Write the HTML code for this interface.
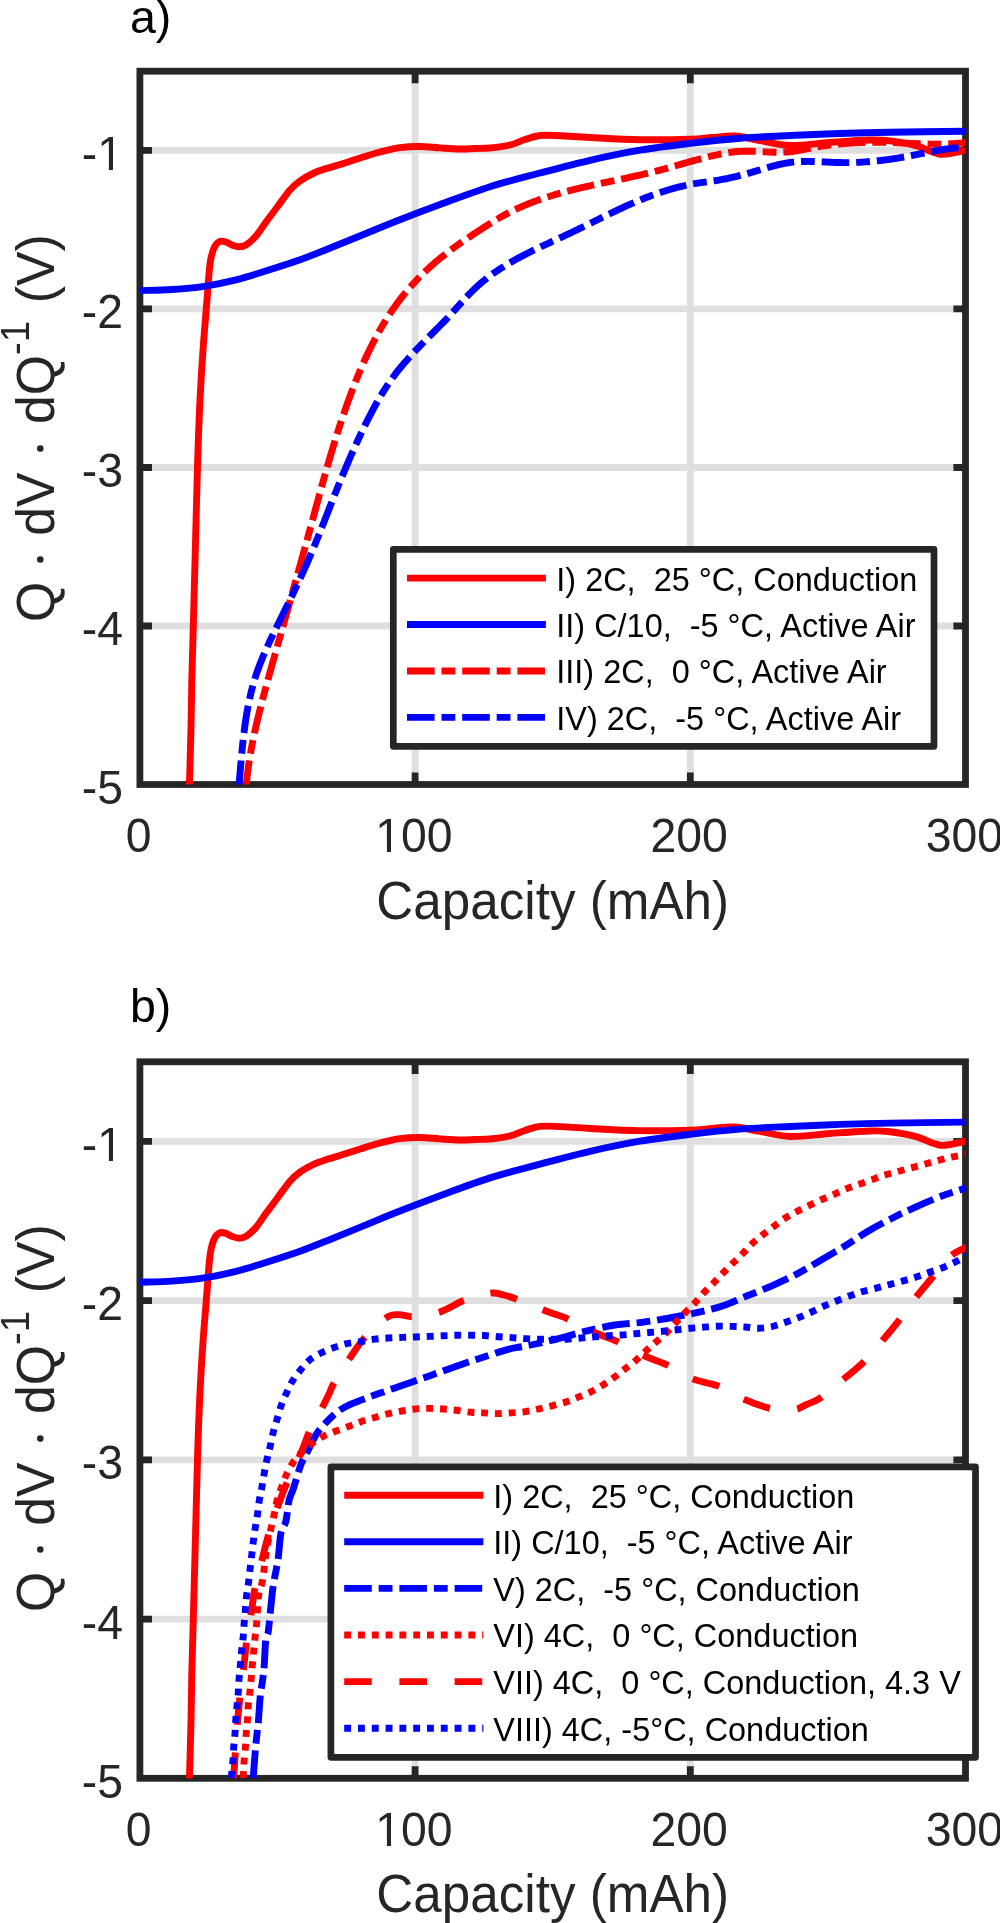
<!DOCTYPE html>
<html><head><meta charset="utf-8"><style>
html,body{margin:0;padding:0;background:#fff;width:1000px;height:1923px;overflow:hidden}
svg{display:block}
text{font-family:"Liberation Sans",sans-serif;filter:grayscale(1)}
</style></head><body>
<svg width="1000" height="1923" viewBox="0 0 1000 1923">
<line x1="415.10" y1="71.19" x2="415.10" y2="784.50" stroke="#dfdfdf" stroke-width="6.8"/>
<line x1="690.30" y1="71.19" x2="690.30" y2="784.50" stroke="#dfdfdf" stroke-width="6.8"/>
<line x1="139.90" y1="150.45" x2="965.50" y2="150.45" stroke="#dfdfdf" stroke-width="6.8"/>
<line x1="139.90" y1="308.96" x2="965.50" y2="308.96" stroke="#dfdfdf" stroke-width="6.8"/>
<line x1="139.90" y1="467.48" x2="965.50" y2="467.48" stroke="#dfdfdf" stroke-width="6.8"/>
<line x1="139.90" y1="625.99" x2="965.50" y2="625.99" stroke="#dfdfdf" stroke-width="6.8"/>
<path d="M415.10 784.50V772.40M415.10 71.19V83.29M690.30 784.50V772.40M690.30 71.19V83.29M139.90 150.45H152.00M965.50 150.45H953.40M139.90 308.96H152.00M965.50 308.96H953.40M139.90 467.48H152.00M965.50 467.48H953.40M139.90 625.99H152.00M965.50 625.99H953.40" stroke="#262626" stroke-width="6.8" fill="none"/>
<rect x="139.90" y="71.19" width="825.60" height="713.31" stroke="#262626" stroke-width="6.8" fill="none" stroke-linejoin="miter"/>
<clipPath id="ca"><rect x="139.90" y="71.19" width="825.60" height="713.31"/></clipPath>
<path d="M189.00 800.00C189.33 788.00 190.53 748.00 191.00 728.00C191.47 708.00 191.30 701.33 191.80 680.00C192.30 658.67 193.20 630.00 194.00 600.00C194.80 570.00 195.93 525.00 196.60 500.00C197.27 475.00 197.43 466.67 198.00 450.00C198.57 433.33 199.17 416.67 200.00 400.00C200.83 383.33 201.83 366.67 203.00 350.00C204.17 333.33 205.83 314.33 207.00 300.00C208.17 285.67 208.83 272.67 210.00 264.00C211.17 255.33 212.42 251.75 214.00 248.00C215.58 244.25 217.50 242.50 219.50 241.50C221.50 240.50 223.92 241.42 226.00 242.00C228.08 242.58 229.83 244.20 232.00 245.00C234.17 245.80 236.67 246.80 239.00 246.80C241.33 246.80 243.17 246.80 246.00 245.00C248.83 243.20 252.67 239.83 256.00 236.00C259.33 232.17 262.33 227.00 266.00 222.00C269.67 217.00 274.00 211.33 278.00 206.00C282.00 200.67 286.33 194.17 290.00 190.00C293.67 185.83 296.00 183.83 300.00 181.00C304.00 178.17 309.33 175.17 314.00 173.00C318.67 170.83 323.67 169.42 328.00 168.00C332.33 166.58 334.67 166.17 340.00 164.50C345.33 162.83 353.33 160.08 360.00 158.00C366.67 155.92 373.33 153.73 380.00 152.00C386.67 150.27 393.33 148.52 400.00 147.60C406.67 146.68 413.33 146.45 420.00 146.50C426.67 146.55 433.33 147.48 440.00 147.90C446.67 148.32 454.17 148.90 460.00 149.00C465.83 149.10 470.00 148.67 475.00 148.50C480.00 148.33 484.17 148.58 490.00 148.00C495.83 147.42 504.17 146.42 510.00 145.00C515.83 143.58 520.00 141.08 525.00 139.50C530.00 137.92 534.17 136.13 540.00 135.50C545.83 134.87 551.67 135.37 560.00 135.70C568.33 136.03 576.67 136.83 590.00 137.50C603.33 138.17 623.33 139.42 640.00 139.70C656.67 139.98 678.00 139.57 690.00 139.20C702.00 138.83 704.50 138.03 712.00 137.50C719.50 136.97 727.00 135.50 735.00 136.00C743.00 136.50 750.83 138.92 760.00 140.50C769.17 142.08 778.33 145.17 790.00 145.50C801.67 145.83 816.67 143.42 830.00 142.50C843.33 141.58 860.00 140.28 870.00 140.00C880.00 139.72 882.33 139.87 890.00 140.80C897.67 141.73 907.67 143.37 916.00 145.60C924.33 147.83 932.33 153.30 940.00 154.20C947.67 155.10 956.17 152.03 962.00 151.00C967.83 149.97 972.83 148.50 975.00 148.00" fill="none" stroke="#ff0000" stroke-width="6.9" stroke-linejoin="round" clip-path="url(#ca)"/>
<path d="M130.00 291.00C131.67 290.93 133.00 290.85 140.00 290.60C147.00 290.35 161.33 290.22 172.00 289.50C182.67 288.78 193.33 287.92 204.00 286.30C214.67 284.68 225.33 282.47 236.00 279.80C246.67 277.13 257.33 273.63 268.00 270.30C278.67 266.97 289.33 263.63 300.00 259.80C310.67 255.97 321.33 251.55 332.00 247.30C342.67 243.05 353.33 238.65 364.00 234.30C374.67 229.95 383.33 226.17 396.00 221.20C408.67 216.23 424.33 210.25 440.00 204.50C455.67 198.75 473.33 191.95 490.00 186.70C506.67 181.45 523.33 177.40 540.00 173.00C556.67 168.60 573.33 164.10 590.00 160.30C606.67 156.50 623.33 153.02 640.00 150.20C656.67 147.38 673.33 145.40 690.00 143.40C706.67 141.40 723.33 139.52 740.00 138.20C756.67 136.88 773.33 136.28 790.00 135.50C806.67 134.72 823.33 134.05 840.00 133.50C856.67 132.95 869.17 132.58 890.00 132.20C910.83 131.82 950.83 131.38 965.00 131.20C979.17 131.02 973.33 131.12 975.00 131.10" fill="none" stroke="#0000ff" stroke-width="6.9" stroke-linejoin="round" clip-path="url(#ca)"/>
<path d="M245.23 799.86 L245.36 797.37 L245.50 794.89 L245.66 792.41 L245.84 789.93 L246.04 787.45 L246.26 784.97 L246.49 782.50 L246.74 780.03 L247.01 777.55 L247.30 775.08 L247.60 772.62 L247.92 770.15 L248.26 767.69 L248.61 765.22 L248.98 762.76 L249.36 760.30 L249.75 757.85 L250.16 755.39 L250.59 752.94 L251.02 750.48 L251.47 748.03 L251.93 745.58 L252.41 743.13 L252.89 740.69 L253.39 738.24 L253.90 735.80 L254.42 733.35 L254.95 730.91 L255.49 728.47 L256.04 726.03 L256.60 723.59 L257.17 721.16 L257.75 718.72 L258.33 716.29 L258.93 713.85 L259.53 711.42 L260.14 708.99 L260.75 706.56 L261.37 704.14 L262.00 701.71 L262.63 699.28 L263.27 696.86 L263.92 694.43 L264.57 692.01 L265.22 689.59 L265.88 687.17 L266.54 684.75 L267.20 682.33 L267.87 679.91 L268.54 677.49 L269.21 675.07 L269.89 672.66 L270.56 670.24 L271.24 667.83 L271.92 665.42 L272.59 663.00 L273.27 660.59 L273.95 658.18 L274.63 655.77 L275.31 653.36 L275.99 650.95 L276.67 648.54 L277.35 646.13 L278.02 643.73 L278.70 641.32 L279.38 638.91 L280.06 636.51 L280.74 634.10 L281.42 631.69 L282.10 629.29 L282.78 626.89 L283.46 624.48 L284.14 622.08 L284.81 619.67 L285.49 617.27 L286.17 614.87 L286.85 612.47 L287.53 610.06 L288.20 607.66 L288.88 605.26 L289.56 602.86 L290.23 600.46 L290.91 598.06 L291.59 595.66 L292.26 593.25 L292.94 590.85 L293.61 588.45 L294.28 586.05 L294.96 583.65 L295.63 581.25 L296.30 578.85 L296.98 576.45 L297.65 574.05 L298.32 571.65 L298.99 569.25 L299.66 566.84 L300.33 564.44 L300.99 562.04 L301.66 559.64 L302.33 557.24 L302.99 554.83 L303.66 552.43 L304.32 550.03 L304.99 547.63 L305.65 545.22 L306.31 542.82 L306.97 540.41 L307.63 538.01 L308.29 535.60 L308.95 533.20 L309.60 530.79 L310.26 528.38 L310.91 525.98 L311.57 523.57 L312.22 521.16 L312.88 518.75 L313.53 516.35 L314.19 513.94 L314.84 511.53 L315.49 509.12 L316.15 506.71 L316.81 504.30 L317.46 501.90 L318.12 499.49 L318.78 497.08 L319.44 494.67 L320.10 492.26 L320.77 489.86 L321.43 487.45 L322.10 485.04 L322.77 482.64 L323.44 480.23 L324.12 477.83 L324.80 475.42 L325.48 473.02 L326.16 470.61 L326.85 468.21 L327.54 465.81 L328.24 463.41 L328.93 461.01 L329.64 458.61 L330.34 456.21 L331.05 453.82 L331.77 451.42 L332.49 449.03 L333.21 446.63 L333.94 444.24 L334.68 441.85 L335.42 439.46 L336.16 437.07 L336.91 434.69 L337.67 432.30 L338.43 429.92 L339.20 427.54 L339.97 425.16 L340.75 422.78 L341.54 420.40 L342.34 418.03 L343.14 415.65 L343.95 413.28 L344.76 410.91 L345.58 408.55 L346.42 406.18 L347.25 403.82 L348.10 401.45 L348.95 399.10 L349.82 396.74 L350.69 394.38 L351.57 392.03 L352.46 389.68 L353.36 387.34 L354.26 384.99 L355.18 382.65 L356.11 380.32 L357.04 377.99 L357.99 375.66 L358.95 373.34 L359.92 371.02 L360.90 368.71 L361.90 366.40 L362.90 364.10 L363.92 361.81 L364.95 359.52 L366.00 357.24 L367.05 354.97 L368.13 352.71 L369.21 350.45 L370.31 348.20 L371.42 345.96 L372.55 343.73 L373.69 341.50 L374.85 339.29 L376.02 337.09 L377.21 334.89 L378.42 332.71 L379.64 330.54 L380.88 328.38 L382.13 326.22 L383.40 324.09 L384.69 321.96 L386.00 319.84 L387.33 317.74 L388.67 315.65 L390.03 313.57 L391.42 311.51 L392.82 309.46 L394.24 307.42 L395.68 305.40 L397.14 303.39 L398.62 301.40 L400.12 299.42 L401.64 297.46 L403.19 295.51 L404.75 293.58 L406.33 291.67 L407.93 289.77 L409.56 287.88 L411.20 286.02 L412.86 284.17 L414.53 282.34 L416.23 280.52 L417.94 278.72 L419.67 276.94 L421.42 275.18 L423.19 273.43 L424.97 271.70 L426.77 269.99 L428.59 268.30 L430.42 266.63 L432.27 264.97 L434.13 263.34 L436.01 261.72 L437.90 260.12 L439.81 258.54 L441.73 256.98 L443.67 255.44 L445.62 253.92 L447.59 252.41 L449.57 250.91 L451.56 249.43 L453.56 247.96 L455.58 246.50 L457.61 245.06 L459.65 243.62 L461.70 242.19 L463.77 240.77 L465.84 239.35 L467.93 237.94 L470.03 236.54 L472.14 235.14 L474.25 233.74 L476.38 232.34 L478.52 230.95 L480.67 229.55 L482.83 228.15 L484.99 226.76 L487.17 225.37 L489.35 223.99 L491.54 222.63 L493.74 221.28 L495.94 219.94 L498.16 218.63 L500.38 217.35 L502.60 216.09 L504.84 214.86 L507.08 213.67 L509.33 212.50 L511.58 211.37 L513.84 210.26 L516.10 209.18 L518.37 208.13 L520.65 207.11 L522.93 206.11 L525.22 205.14 L527.51 204.19 L529.81 203.27 L532.11 202.37 L534.42 201.49 L536.74 200.63 L539.06 199.80 L541.38 198.99 L543.71 198.19 L546.05 197.42 L548.38 196.67 L550.73 195.93 L553.07 195.21 L555.43 194.51 L557.78 193.82 L560.14 193.15 L562.51 192.49 L564.88 191.85 L567.25 191.22 L569.63 190.60 L572.01 190.00 L574.39 189.40 L576.78 188.82 L579.17 188.24 L581.56 187.68 L583.96 187.12 L586.36 186.57 L588.76 186.03 L591.17 185.50 L593.58 184.97 L595.99 184.44 L598.41 183.92 L600.82 183.40 L603.24 182.89 L605.67 182.38 L608.09 181.87 L610.52 181.36 L612.95 180.85 L615.38 180.34 L617.81 179.83 L620.24 179.32 L622.68 178.80 L625.12 178.28 L627.56 177.76 L630.00 177.24 L632.44 176.70 L634.88 176.16 L637.33 175.62 L639.77 175.07 L642.22 174.51 L644.67 173.94 L647.11 173.36 L649.56 172.77 L652.01 172.17 L654.46 171.56 L656.91 170.94 L659.36 170.31 L661.81 169.66 L664.26 169.00 L666.72 168.32 L669.17 167.64 L671.62 166.95 L674.07 166.25 L676.52 165.55 L678.97 164.85 L681.43 164.14 L683.88 163.44 L686.33 162.74 L688.78 162.04 L691.24 161.34 L693.69 160.65 L696.14 159.97 L698.60 159.30 L701.05 158.65 L703.51 158.00 L705.96 157.37 L708.41 156.76 L710.87 156.16 L713.33 155.59 L715.78 155.03 L718.24 154.51 L720.69 154.00 L723.15 153.53 L725.61 153.10 L728.06 152.70 L730.52 152.34 L732.98 152.03 L735.44 151.76 L737.90 151.54 L740.36 151.38 L742.81 151.27 L745.27 151.22 L747.73 151.21 L750.19 151.24 L752.66 151.30 L755.12 151.38 L757.58 151.49 L760.04 151.61 L762.50 151.73 L764.97 151.86 L767.43 151.98 L769.89 152.09 L772.36 152.18 L774.82 152.24 L777.29 152.27 L779.75 152.27 L782.22 152.22 L784.68 152.12 L787.15 151.97 L789.62 151.75 L792.09 151.47 L794.55 151.12 L797.02 150.72 L799.49 150.29 L801.96 149.82 L804.43 149.34 L806.90 148.85 L809.37 148.36 L811.85 147.88 L814.32 147.43 L816.79 146.99 L819.26 146.58 L821.74 146.19 L824.21 145.82 L826.69 145.47 L829.16 145.14 L831.64 144.83 L834.12 144.54 L836.60 144.28 L839.07 144.03 L841.55 143.79 L844.03 143.58 L846.51 143.39 L848.99 143.21 L851.47 143.05 L853.96 142.91 L856.44 142.78 L858.92 142.67 L861.40 142.58 L863.89 142.50 L866.37 142.44 L868.86 142.39 L871.35 142.35 L873.83 142.34 L876.32 142.33 L878.81 142.34 L881.30 142.36 L883.79 142.40 L886.28 142.44 L888.77 142.50 L891.26 142.57 L893.76 142.66 L896.25 142.75 L898.75 142.85 L901.24 142.95 L903.74 143.06 L906.23 143.17 L908.73 143.29 L911.23 143.40 L913.73 143.51 L916.23 143.62 L918.73 143.72 L921.23 143.81 L923.73 143.90 L926.24 143.98 L928.74 144.04 L931.25 144.09 L933.75 144.13 L936.26 144.14 L938.76 144.15 L941.27 144.13 L943.78 144.09 L946.29 144.02 L948.80 143.93 L951.31 143.82 L953.83 143.67 L956.34 143.50 L958.85 143.30 L961.37 143.06 L963.89 142.79 L966.40 142.48 L968.92 142.14 L971.44 141.76 L973.96 141.33 L975.22 141.10" fill="none" stroke="#ff0000" stroke-width="6.9" stroke-linejoin="round" stroke-dasharray="27.6 6.9 13.8 6.9" stroke-dashoffset="-12" clip-path="url(#ca)"/>
<path d="M237.56 799.91 L237.81 797.46 L238.06 795.00 L238.30 792.53 L238.53 790.07 L238.76 787.60 L238.98 785.12 L239.20 782.64 L239.42 780.16 L239.63 777.68 L239.85 775.19 L240.06 772.70 L240.28 770.21 L240.49 767.71 L240.71 765.22 L240.92 762.72 L241.15 760.22 L241.37 757.72 L241.60 755.23 L241.83 752.73 L242.07 750.23 L242.32 747.73 L242.58 745.23 L242.84 742.73 L243.11 740.23 L243.39 737.74 L243.68 735.25 L243.98 732.75 L244.29 730.26 L244.62 727.78 L244.96 725.29 L245.31 722.81 L245.67 720.33 L246.06 717.86 L246.45 715.38 L246.87 712.92 L247.30 710.45 L247.75 708.00 L248.21 705.54 L248.70 703.09 L249.21 700.65 L249.74 698.21 L250.29 695.78 L250.86 693.35 L251.45 690.93 L252.07 688.52 L252.71 686.11 L253.38 683.72 L254.08 681.32 L254.80 678.94 L255.54 676.56 L256.32 674.20 L257.12 671.84 L257.96 669.49 L258.81 667.14 L259.69 664.81 L260.59 662.48 L261.52 660.16 L262.47 657.84 L263.43 655.53 L264.41 653.23 L265.41 650.93 L266.43 648.64 L267.46 646.36 L268.50 644.08 L269.55 641.80 L270.62 639.53 L271.69 637.26 L272.77 635.00 L273.86 632.74 L274.95 630.49 L276.05 628.23 L277.15 625.98 L278.25 623.74 L279.36 621.49 L280.46 619.25 L281.56 617.01 L282.66 614.77 L283.76 612.53 L284.86 610.30 L285.96 608.06 L287.05 605.82 L288.15 603.59 L289.24 601.35 L290.32 599.12 L291.41 596.88 L292.49 594.64 L293.57 592.40 L294.64 590.16 L295.71 587.92 L296.77 585.68 L297.83 583.43 L298.89 581.18 L299.94 578.93 L300.98 576.68 L302.02 574.42 L303.05 572.16 L304.07 569.90 L305.09 567.63 L306.10 565.35 L307.11 563.08 L308.10 560.79 L309.09 558.50 L310.07 556.21 L311.05 553.92 L312.02 551.62 L312.98 549.31 L313.94 547.00 L314.89 544.69 L315.84 542.38 L316.78 540.06 L317.72 537.74 L318.66 535.41 L319.59 533.09 L320.52 530.76 L321.45 528.43 L322.37 526.09 L323.30 523.76 L324.22 521.42 L325.14 519.09 L326.05 516.75 L326.97 514.41 L327.89 512.07 L328.81 509.73 L329.73 507.38 L330.65 505.04 L331.57 502.70 L332.49 500.36 L333.42 498.02 L334.35 495.68 L335.28 493.34 L336.21 491.00 L337.14 488.67 L338.08 486.33 L339.03 484.00 L339.98 481.67 L340.93 479.34 L341.89 477.01 L342.85 474.68 L343.81 472.36 L344.78 470.04 L345.76 467.72 L346.74 465.41 L347.73 463.10 L348.72 460.79 L349.71 458.49 L350.71 456.19 L351.72 453.90 L352.73 451.61 L353.75 449.32 L354.78 447.04 L355.81 444.77 L356.84 442.50 L357.89 440.23 L358.94 437.97 L359.99 435.72 L361.06 433.47 L362.12 431.23 L363.20 429.00 L364.28 426.77 L365.37 424.55 L366.47 422.33 L367.58 420.12 L368.69 417.93 L369.81 415.73 L370.94 413.55 L372.08 411.37 L373.23 409.20 L374.40 407.04 L375.58 404.89 L376.77 402.75 L377.98 400.61 L379.21 398.48 L380.46 396.37 L381.72 394.26 L383.01 392.16 L384.31 390.07 L385.64 387.99 L386.99 385.92 L388.37 383.86 L389.77 381.81 L391.20 379.76 L392.66 377.73 L394.14 375.71 L395.66 373.70 L397.21 371.71 L398.78 369.72 L400.38 367.74 L402.01 365.77 L403.65 363.82 L405.32 361.88 L407.01 359.95 L408.72 358.03 L410.43 356.12 L412.17 354.22 L413.91 352.34 L415.66 350.47 L417.42 348.61 L419.19 346.77 L420.95 344.93 L422.72 343.11 L424.49 341.31 L426.26 339.51 L428.02 337.73 L429.78 335.97 L431.52 334.21 L433.26 332.48 L434.98 330.75 L436.69 329.04 L438.39 327.34 L440.08 325.64 L441.75 323.94 L443.42 322.23 L445.09 320.50 L446.74 318.76 L448.40 316.99 L450.06 315.19 L451.71 313.38 L453.37 311.54 L455.04 309.68 L456.71 307.82 L458.38 305.95 L460.07 304.07 L461.77 302.19 L463.48 300.31 L465.20 298.44 L466.95 296.58 L468.71 294.73 L470.49 292.89 L472.29 291.08 L474.11 289.29 L475.96 287.53 L477.84 285.80 L479.74 284.10 L481.67 282.44 L483.63 280.81 L485.61 279.21 L487.61 277.65 L489.63 276.12 L491.67 274.62 L493.72 273.15 L495.79 271.72 L497.87 270.31 L499.96 268.93 L502.05 267.58 L504.16 266.25 L506.27 264.95 L508.39 263.68 L510.53 262.42 L512.66 261.19 L514.81 259.98 L516.96 258.79 L519.12 257.62 L521.29 256.47 L523.46 255.33 L525.64 254.21 L527.83 253.10 L530.02 252.00 L532.22 250.92 L534.42 249.84 L536.63 248.77 L538.85 247.72 L541.06 246.67 L543.29 245.62 L545.52 244.58 L547.75 243.54 L549.99 242.50 L552.23 241.47 L554.47 240.43 L556.72 239.39 L558.97 238.35 L561.23 237.31 L563.48 236.26 L565.74 235.21 L568.01 234.15 L570.27 233.08 L572.54 232.00 L574.81 230.91 L577.08 229.81 L579.35 228.71 L581.62 227.59 L583.90 226.48 L586.18 225.36 L588.46 224.23 L590.74 223.11 L593.03 221.98 L595.31 220.85 L597.60 219.72 L599.89 218.59 L602.19 217.46 L604.48 216.34 L606.78 215.22 L609.08 214.10 L611.38 212.99 L613.68 211.88 L615.99 210.79 L618.30 209.70 L620.61 208.62 L622.92 207.54 L625.24 206.48 L627.56 205.44 L629.88 204.40 L632.20 203.38 L634.52 202.37 L636.85 201.37 L639.18 200.40 L641.51 199.44 L643.84 198.49 L646.18 197.57 L648.52 196.67 L650.86 195.78 L653.20 194.92 L655.55 194.08 L657.89 193.25 L660.25 192.46 L662.60 191.68 L664.95 190.93 L667.31 190.20 L669.67 189.49 L672.04 188.81 L674.40 188.15 L676.77 187.52 L679.14 186.91 L681.51 186.33 L683.89 185.78 L686.27 185.25 L688.65 184.76 L691.03 184.29 L693.42 183.84 L695.81 183.43 L698.20 183.05 L700.59 182.70 L702.99 182.37 L705.39 182.06 L707.79 181.75 L710.20 181.44 L712.61 181.10 L715.02 180.73 L717.43 180.34 L719.85 179.92 L722.27 179.47 L724.69 179.00 L727.11 178.51 L729.54 177.99 L731.97 177.44 L734.40 176.88 L736.83 176.29 L739.27 175.68 L741.70 175.06 L744.14 174.41 L746.58 173.75 L749.03 173.06 L751.48 172.37 L753.92 171.65 L756.37 170.93 L758.83 170.19 L761.28 169.46 L763.73 168.73 L766.19 168.01 L768.65 167.30 L771.11 166.61 L773.57 165.95 L776.04 165.31 L778.50 164.71 L780.97 164.15 L783.44 163.63 L785.91 163.17 L788.38 162.75 L790.85 162.40 L793.33 162.10 L795.80 161.87 L798.28 161.69 L800.75 161.56 L803.23 161.47 L805.71 161.43 L808.19 161.42 L810.67 161.44 L813.15 161.49 L815.64 161.56 L818.12 161.65 L820.60 161.75 L823.09 161.87 L825.57 161.99 L828.06 162.11 L830.55 162.23 L833.03 162.34 L835.52 162.43 L838.01 162.51 L840.50 162.57 L842.99 162.61 L845.48 162.62 L847.97 162.61 L850.45 162.57 L852.94 162.52 L855.43 162.44 L857.92 162.34 L860.41 162.21 L862.90 162.07 L865.39 161.91 L867.88 161.72 L870.37 161.52 L872.86 161.29 L875.35 161.05 L877.84 160.79 L880.32 160.51 L882.81 160.21 L885.30 159.90 L887.78 159.57 L890.27 159.22 L892.75 158.86 L895.24 158.48 L897.72 158.09 L900.21 157.68 L902.69 157.25 L905.17 156.82 L907.65 156.37 L910.13 155.90 L912.61 155.43 L915.09 154.94 L917.56 154.44 L920.04 153.93 L922.51 153.42 L924.98 152.91 L927.46 152.39 L929.93 151.89 L932.39 151.40 L934.86 150.92 L937.33 150.46 L939.79 150.02 L942.26 149.61 L944.72 149.22 L947.18 148.87 L949.63 148.56 L952.09 148.28 L954.55 148.05 L957.00 147.87 L959.45 147.74 L961.90 147.67 L964.34 147.65 L966.79 147.70 L969.23 147.82 L971.67 148.01 L974.11 148.27 L974.74 148.35" fill="none" stroke="#0000ff" stroke-width="6.9" stroke-linejoin="round" stroke-dasharray="27.6 6.9 13.8 6.9" stroke-dashoffset="-12" clip-path="url(#ca)"/>
<rect x="393.30" y="549.40" width="540.70" height="196.90" fill="#fff" stroke="#262626" stroke-width="6.7" stroke-linejoin="round"/>
<line x1="407.00" y1="578.10" x2="545.90" y2="578.10" stroke="#ff0000" stroke-width="6.9"/>
<text transform="translate(556.30 590.50) scale(0.972 1)" font-size="33.4" fill="#000" style="white-space:pre">I) 2C,  25 &#176;C, Conduction</text>
<line x1="407.00" y1="624.50" x2="545.90" y2="624.50" stroke="#0000ff" stroke-width="6.9"/>
<text transform="translate(556.30 636.90) scale(0.972 1)" font-size="33.4" fill="#000" style="white-space:pre">II) C/10,  -5 &#176;C, Active Air</text>
<line x1="407.00" y1="671.00" x2="545.90" y2="671.00" stroke="#ff0000" stroke-width="6.9" stroke-dasharray="27.6 6.9 13.8 6.9"/>
<text transform="translate(556.30 683.40) scale(0.972 1)" font-size="33.4" fill="#000" style="white-space:pre">III) 2C,  0 &#176;C, Active Air</text>
<line x1="407.00" y1="717.40" x2="545.90" y2="717.40" stroke="#0000ff" stroke-width="6.9" stroke-dasharray="27.6 6.9 13.8 6.9"/>
<text transform="translate(556.30 729.80) scale(0.972 1)" font-size="33.4" fill="#000" style="white-space:pre">IV) 2C,  -5 &#176;C, Active Air</text>
<text transform="translate(123.0 169.95) scale(0.95 1)" text-anchor="end" font-size="48.8" fill="#262626">-1</text>
<rect x="99.75" y="165.90" width="9.13" height="4.85" fill="#fff"/>
<rect x="112.97" y="165.90" width="8.76" height="4.85" fill="#fff"/>
<text transform="translate(123.0 328.46) scale(0.95 1)" text-anchor="end" font-size="48.8" fill="#262626">-2</text>
<text transform="translate(123.0 486.98) scale(0.95 1)" text-anchor="end" font-size="48.8" fill="#262626">-3</text>
<text transform="translate(123.0 645.49) scale(0.95 1)" text-anchor="end" font-size="48.8" fill="#262626">-4</text>
<text transform="translate(123.0 804.00) scale(0.95 1)" text-anchor="end" font-size="48.8" fill="#262626">-5</text>
<text transform="translate(138.70 851.60) scale(0.95 1)" text-anchor="middle" font-size="48.8" fill="#262626">0</text>
<text transform="translate(413.90 851.60) scale(0.95 1)" text-anchor="middle" font-size="48.8" fill="#262626">100</text>
<rect x="377.76" y="847.55" width="9.13" height="4.85" fill="#fff"/>
<rect x="390.98" y="847.55" width="8.76" height="4.85" fill="#fff"/>
<text transform="translate(689.10 851.60) scale(0.95 1)" text-anchor="middle" font-size="48.8" fill="#262626">200</text>
<text transform="translate(964.30 851.60) scale(0.95 1)" text-anchor="middle" font-size="48.8" fill="#262626">300</text>
<text transform="translate(552.70 918.70) scale(0.95 1)" text-anchor="middle" font-size="53.9" fill="#262626">Capacity (mAh)</text>
<text transform="translate(53.60 622.00) rotate(-90) scale(0.961 1)" font-size="53.9" fill="#262626">Q</text>
<text transform="translate(53.60 535.80) rotate(-90) scale(0.961 1)" font-size="53.9" fill="#262626">dV</text>
<text transform="translate(53.60 424.00) rotate(-90) scale(0.961 1)" font-size="53.9" fill="#262626">dQ</text>
<text transform="translate(29.10 355.00) rotate(-90) scale(0.961 1)" font-size="40" fill="#262626">-1</text>
<text transform="translate(53.60 303.30) rotate(-90) scale(0.961 1)" font-size="53.9" fill="#262626">(V)</text>
<circle cx="40.3" cy="559.50" r="3.3" fill="#262626"/>
<circle cx="40.3" cy="448.60" r="3.3" fill="#262626"/>
<text x="130.00" y="33.30" font-size="46.5" fill="#000">a)</text>
<line x1="415.10" y1="1061.79" x2="415.10" y2="1778.30" stroke="#dfdfdf" stroke-width="6.8"/>
<line x1="690.30" y1="1061.79" x2="690.30" y2="1778.30" stroke="#dfdfdf" stroke-width="6.8"/>
<line x1="139.90" y1="1141.40" x2="965.50" y2="1141.40" stroke="#dfdfdf" stroke-width="6.8"/>
<line x1="139.90" y1="1300.62" x2="965.50" y2="1300.62" stroke="#dfdfdf" stroke-width="6.8"/>
<line x1="139.90" y1="1459.85" x2="965.50" y2="1459.85" stroke="#dfdfdf" stroke-width="6.8"/>
<line x1="139.90" y1="1619.08" x2="965.50" y2="1619.08" stroke="#dfdfdf" stroke-width="6.8"/>
<path d="M415.10 1778.30V1766.20M415.10 1061.79V1073.89M690.30 1778.30V1766.20M690.30 1061.79V1073.89M139.90 1141.40H152.00M965.50 1141.40H953.40M139.90 1300.62H152.00M965.50 1300.62H953.40M139.90 1459.85H152.00M965.50 1459.85H953.40M139.90 1619.08H152.00M965.50 1619.08H953.40" stroke="#262626" stroke-width="6.8" fill="none"/>
<rect x="139.90" y="1061.79" width="825.60" height="716.51" stroke="#262626" stroke-width="6.8" fill="none" stroke-linejoin="miter"/>
<clipPath id="cb"><rect x="139.90" y="1061.79" width="825.60" height="716.51"/></clipPath>
<path d="M189.00 1793.87C189.33 1781.82 190.53 1741.64 191.00 1721.55C191.47 1701.46 191.30 1694.77 191.80 1673.34C192.30 1651.91 193.20 1623.12 194.00 1592.99C194.80 1562.85 195.93 1517.65 196.60 1492.54C197.27 1467.43 197.43 1459.06 198.00 1442.32C198.57 1425.58 199.17 1408.84 200.00 1392.10C200.83 1375.36 201.83 1358.62 203.00 1341.88C204.17 1325.14 205.83 1306.06 207.00 1291.66C208.17 1277.26 208.83 1264.21 210.00 1255.50C211.17 1246.80 212.42 1243.20 214.00 1239.43C215.58 1235.66 217.50 1233.91 219.50 1232.90C221.50 1231.90 223.92 1232.82 226.00 1233.40C228.08 1233.99 229.83 1235.61 232.00 1236.42C234.17 1237.22 236.67 1238.23 239.00 1238.23C241.33 1238.23 243.17 1238.23 246.00 1236.42C248.83 1234.61 252.67 1231.23 256.00 1227.38C259.33 1223.53 262.33 1218.34 266.00 1213.32C269.67 1208.29 274.00 1202.60 278.00 1197.25C282.00 1191.89 286.33 1185.36 290.00 1181.17C293.67 1176.99 296.00 1174.98 300.00 1172.13C304.00 1169.29 309.33 1166.28 314.00 1164.10C318.67 1161.92 323.67 1160.50 328.00 1159.08C332.33 1157.65 334.67 1157.24 340.00 1155.56C345.33 1153.89 353.33 1151.13 360.00 1149.03C366.67 1146.94 373.33 1144.75 380.00 1143.01C386.67 1141.27 393.33 1139.51 400.00 1138.59C406.67 1137.67 413.33 1137.43 420.00 1137.48C426.67 1137.53 433.33 1138.47 440.00 1138.89C446.67 1139.31 454.17 1139.89 460.00 1139.99C465.83 1140.09 470.00 1139.66 475.00 1139.49C480.00 1139.32 484.17 1139.57 490.00 1138.99C495.83 1138.40 504.17 1137.40 510.00 1135.98C515.83 1134.55 520.00 1132.04 525.00 1130.45C530.00 1128.86 534.17 1127.07 540.00 1126.43C545.83 1125.80 551.67 1126.30 560.00 1126.63C568.33 1126.97 576.67 1127.77 590.00 1128.44C603.33 1129.11 623.33 1130.37 640.00 1130.65C656.67 1130.94 678.00 1130.52 690.00 1130.15C702.00 1129.78 704.50 1128.98 712.00 1128.44C719.50 1127.91 727.00 1126.43 735.00 1126.94C743.00 1127.44 750.83 1129.87 760.00 1131.46C769.17 1133.05 778.33 1136.14 790.00 1136.48C801.67 1136.81 816.67 1134.39 830.00 1133.46C843.33 1132.54 860.00 1131.24 870.00 1130.95C880.00 1130.67 882.33 1130.82 890.00 1131.76C897.67 1132.69 907.67 1134.34 916.00 1136.58C924.33 1138.82 932.33 1144.31 940.00 1145.22C947.67 1146.12 956.17 1143.04 962.00 1142.00C967.83 1140.96 972.83 1139.49 975.00 1138.99" fill="none" stroke="#ff0000" stroke-width="6.9" stroke-linejoin="round" clip-path="url(#cb)"/>
<path d="M130.00 1282.62C131.67 1282.55 133.00 1282.47 140.00 1282.22C147.00 1281.97 161.33 1281.83 172.00 1281.11C182.67 1280.39 193.33 1279.52 204.00 1277.90C214.67 1276.28 225.33 1274.05 236.00 1271.37C246.67 1268.69 257.33 1265.18 268.00 1261.83C278.67 1258.48 289.33 1255.13 300.00 1251.28C310.67 1247.43 321.33 1243.00 332.00 1238.73C342.67 1234.46 353.33 1230.04 364.00 1225.67C374.67 1221.30 383.33 1217.50 396.00 1212.51C408.67 1207.52 424.33 1201.51 440.00 1195.74C455.67 1189.96 473.33 1183.13 490.00 1177.86C506.67 1172.59 523.33 1168.52 540.00 1164.10C556.67 1159.68 573.33 1155.16 590.00 1151.34C606.67 1147.53 623.33 1144.03 640.00 1141.20C656.67 1138.37 673.33 1136.38 690.00 1134.37C706.67 1132.36 723.33 1130.47 740.00 1129.15C756.67 1127.82 773.33 1127.22 790.00 1126.43C806.67 1125.65 823.33 1124.98 840.00 1124.42C856.67 1123.87 869.17 1123.50 890.00 1123.12C910.83 1122.73 950.83 1122.30 965.00 1122.11C979.17 1121.93 973.33 1122.03 975.00 1122.01" fill="none" stroke="#0000ff" stroke-width="6.9" stroke-linejoin="round" clip-path="url(#cb)"/>
<path d="M253.00 1790.00C253.05 1787.88 252.92 1783.80 253.30 1777.30C253.68 1770.80 254.75 1757.67 255.30 1751.00C255.85 1744.33 256.10 1742.08 256.60 1737.30C257.10 1732.52 257.68 1729.23 258.30 1722.30C258.92 1715.37 259.62 1702.48 260.30 1695.70C260.98 1688.92 261.77 1686.32 262.40 1681.60C263.03 1676.88 263.55 1674.20 264.10 1667.40C264.65 1660.60 265.02 1646.70 265.70 1640.80C266.38 1634.90 267.45 1636.60 268.20 1632.00C268.95 1627.40 269.40 1620.67 270.20 1613.20C271.00 1605.73 272.00 1594.47 273.00 1587.20C274.00 1579.93 275.33 1574.40 276.20 1569.60C277.07 1564.80 277.40 1564.53 278.20 1558.40C279.00 1552.27 279.73 1538.93 281.00 1532.80C282.27 1526.67 284.45 1527.03 285.80 1521.60C287.15 1516.17 287.88 1505.57 289.10 1500.20C290.32 1494.83 291.15 1495.25 293.10 1489.40C295.05 1483.55 298.25 1471.70 300.80 1465.10C303.35 1458.50 305.70 1455.10 308.40 1449.80C311.10 1444.50 313.57 1438.35 317.00 1433.30C320.43 1428.25 325.17 1423.38 329.00 1419.50C332.83 1415.62 336.50 1412.50 340.00 1410.00C343.50 1407.50 346.38 1406.18 350.00 1404.50C353.62 1402.82 357.15 1401.63 361.70 1399.90C366.25 1398.17 370.37 1396.58 377.30 1394.10C384.23 1391.62 394.63 1388.03 403.30 1385.00C411.97 1381.97 420.58 1379.00 429.30 1375.90C438.02 1372.80 447.02 1369.38 455.60 1366.40C464.18 1363.42 472.20 1360.80 480.80 1358.00C489.40 1355.20 500.67 1351.43 507.20 1349.60C513.73 1347.77 515.27 1347.93 520.00 1347.00C524.73 1346.07 528.80 1345.50 535.60 1344.00C542.40 1342.50 552.20 1340.20 560.80 1338.00C569.40 1335.80 578.20 1332.97 587.20 1330.80C596.20 1328.63 605.62 1326.42 614.80 1325.00C623.98 1323.58 633.17 1323.47 642.30 1322.30C651.43 1321.13 660.55 1319.62 669.60 1318.00C678.65 1316.38 687.80 1314.60 696.60 1312.60C705.40 1310.60 713.97 1308.80 722.40 1306.00C730.83 1303.20 738.87 1299.20 747.20 1295.80C755.53 1292.40 764.00 1289.30 772.40 1285.60C780.80 1281.90 789.40 1277.90 797.60 1273.60C805.80 1269.30 813.53 1264.52 821.60 1259.80C829.67 1255.08 838.27 1250.07 846.00 1245.30C853.73 1240.53 860.23 1235.75 868.00 1231.20C875.77 1226.65 884.50 1222.10 892.60 1218.00C900.70 1213.90 908.30 1210.30 916.60 1206.60C924.90 1202.90 935.10 1198.60 942.40 1195.80C949.70 1193.00 954.97 1191.52 960.40 1189.80C965.83 1188.08 972.57 1186.22 975.00 1185.50" fill="none" stroke="#0000ff" stroke-width="6.9" stroke-linejoin="round" stroke-dasharray="27.6 6.9 13.8 6.9" stroke-dashoffset="-12" clip-path="url(#cb)"/>
<path d="M243.00 1790.00C243.05 1787.47 243.12 1779.63 243.30 1774.80C243.48 1769.97 243.75 1765.58 244.10 1761.00C244.45 1756.42 245.05 1751.93 245.40 1747.30C245.75 1742.67 245.87 1737.77 246.20 1733.20C246.53 1728.63 247.05 1724.48 247.40 1719.90C247.75 1715.32 247.88 1710.35 248.30 1705.70C248.72 1701.05 249.42 1696.57 249.90 1692.00C250.38 1687.43 250.78 1682.88 251.20 1678.30C251.62 1673.72 251.98 1669.08 252.40 1664.50C252.82 1659.92 253.25 1655.43 253.70 1650.80C254.15 1646.17 254.62 1641.30 255.10 1636.70C255.58 1632.10 256.02 1629.98 256.60 1623.20C257.18 1616.42 257.67 1602.87 258.60 1596.00C259.53 1589.13 261.27 1586.67 262.20 1582.00C263.13 1577.33 263.40 1573.83 264.20 1568.00C265.00 1562.17 265.83 1553.77 267.00 1547.00C268.17 1540.23 270.00 1532.87 271.20 1527.40C272.40 1521.93 273.25 1518.58 274.20 1514.20C275.15 1509.82 275.70 1505.53 276.90 1501.10C278.10 1496.67 279.82 1492.02 281.40 1487.60C282.98 1483.18 284.45 1478.80 286.40 1474.60C288.35 1470.40 290.33 1466.33 293.10 1462.40C295.87 1458.47 299.85 1454.15 303.00 1451.00C306.15 1447.85 308.58 1445.97 312.00 1443.50C315.42 1441.03 319.50 1438.28 323.50 1436.20C327.50 1434.12 331.58 1432.72 336.00 1431.00C340.42 1429.28 345.72 1427.50 350.00 1425.90C354.28 1424.30 357.58 1422.80 361.70 1421.40C365.82 1420.00 370.25 1418.80 374.70 1417.50C379.15 1416.20 383.85 1414.68 388.40 1413.60C392.95 1412.52 397.57 1411.77 402.00 1411.00C406.43 1410.23 410.55 1409.43 415.00 1409.00C419.45 1408.57 424.03 1408.40 428.70 1408.40C433.37 1408.40 438.35 1408.68 443.00 1409.00C447.65 1409.32 451.88 1409.75 456.60 1410.30C461.32 1410.85 466.78 1411.87 471.30 1412.30C475.82 1412.73 479.37 1412.68 483.70 1412.90C488.03 1413.12 492.75 1413.60 497.30 1413.60C501.85 1413.60 506.33 1413.23 511.00 1412.90C515.67 1412.57 520.75 1412.25 525.30 1411.60C529.85 1410.95 533.87 1409.97 538.30 1409.00C542.73 1408.03 547.25 1406.98 551.90 1405.80C556.55 1404.62 561.87 1403.32 566.20 1401.90C570.53 1400.48 573.88 1398.93 577.90 1397.30C581.92 1395.67 586.22 1394.08 590.30 1392.10C594.38 1390.12 598.48 1387.82 602.40 1385.40C606.32 1382.98 610.10 1380.30 613.80 1377.60C617.50 1374.90 621.00 1372.00 624.60 1369.20C628.20 1366.40 631.90 1363.80 635.40 1360.80C638.90 1357.80 642.20 1354.30 645.60 1351.20C649.00 1348.10 652.35 1345.27 655.80 1342.20C659.25 1339.13 663.05 1335.97 666.30 1332.80C669.55 1329.63 672.25 1326.47 675.30 1323.20C678.35 1319.93 681.45 1316.47 684.60 1313.20C687.75 1309.93 691.10 1306.90 694.20 1303.60C697.30 1300.30 700.10 1296.70 703.20 1293.40C706.30 1290.10 709.60 1287.10 712.80 1283.80C716.00 1280.50 719.20 1276.90 722.40 1273.60C725.60 1270.30 728.78 1267.15 732.00 1264.00C735.22 1260.85 738.47 1258.00 741.70 1254.70C744.93 1251.40 748.08 1247.35 751.40 1244.20C754.72 1241.05 758.10 1238.60 761.60 1235.80C765.10 1233.00 768.70 1230.20 772.40 1227.40C776.10 1224.60 780.00 1221.50 783.80 1219.00C787.60 1216.50 791.30 1214.50 795.20 1212.40C799.10 1210.30 803.10 1208.40 807.20 1206.40C811.30 1204.40 815.60 1202.30 819.80 1200.40C824.00 1198.50 828.30 1196.80 832.40 1195.00C836.50 1193.20 840.28 1191.27 844.40 1189.60C848.52 1187.93 852.77 1186.57 857.10 1185.00C861.43 1183.43 865.98 1181.80 870.40 1180.20C874.82 1178.60 879.20 1176.80 883.60 1175.40C888.00 1174.00 892.40 1173.00 896.80 1171.80C901.20 1170.60 905.60 1169.40 910.00 1168.20C914.40 1167.00 918.80 1165.80 923.20 1164.60C927.60 1163.40 932.00 1162.20 936.40 1161.00C940.80 1159.80 945.20 1158.40 949.60 1157.40C954.00 1156.40 958.57 1155.73 962.80 1155.00C967.03 1154.27 972.97 1153.33 975.00 1153.00" fill="none" stroke="#ff0000" stroke-width="6.9" stroke-linejoin="round" stroke-dasharray="6.9 6.9" stroke-dashoffset="2" clip-path="url(#cb)"/>
<path d="M233.30 1790.00C233.37 1787.88 233.35 1783.72 233.70 1777.30C234.05 1770.88 234.77 1760.67 235.40 1751.50C236.03 1742.33 236.73 1731.45 237.50 1722.30C238.27 1713.15 238.97 1705.75 240.00 1696.60C241.03 1687.45 242.60 1676.57 243.70 1667.40C244.80 1658.23 245.32 1650.83 246.60 1641.60C247.88 1632.37 250.00 1620.93 251.40 1612.00C252.80 1603.07 253.13 1597.07 255.00 1588.00C256.87 1578.93 260.33 1566.53 262.60 1557.60C264.87 1548.67 265.92 1543.37 268.60 1534.40C271.28 1525.43 275.67 1512.35 278.70 1503.80C281.73 1495.25 283.05 1491.65 286.80 1483.10C290.55 1474.55 297.45 1461.05 301.20 1452.50C304.95 1443.95 306.17 1438.55 309.30 1431.80C312.43 1425.05 316.72 1418.30 320.00 1412.00C323.28 1405.70 326.67 1398.83 329.00 1394.00C331.33 1389.17 330.43 1389.13 334.00 1383.00C337.57 1376.87 345.17 1364.90 350.40 1357.20C355.63 1349.50 359.40 1343.40 365.40 1336.80C371.40 1330.20 380.90 1321.30 386.40 1317.60C391.90 1313.90 394.13 1314.73 398.40 1314.60C402.67 1314.47 407.57 1316.73 412.00 1316.80C416.43 1316.87 420.53 1315.73 425.00 1315.00C429.47 1314.27 434.30 1313.83 438.80 1312.40C443.30 1310.97 447.80 1308.40 452.00 1306.40C456.20 1304.40 457.60 1302.60 464.00 1300.40C470.40 1298.20 483.80 1294.10 490.40 1293.20C497.00 1292.30 499.20 1294.00 503.60 1295.00C508.00 1296.00 510.27 1296.73 516.80 1299.20C523.33 1301.67 536.27 1307.23 542.80 1309.80C549.33 1312.37 551.80 1313.07 556.00 1314.60C560.20 1316.13 561.80 1316.10 568.00 1319.00C574.20 1321.90 585.03 1328.28 593.20 1332.00C601.37 1335.72 608.67 1337.40 617.00 1341.30C625.33 1345.20 634.83 1351.45 643.20 1355.40C651.57 1359.35 659.00 1361.10 667.20 1365.00C675.40 1368.90 683.90 1375.30 692.40 1378.80C700.90 1382.30 709.75 1382.67 718.20 1386.00C726.65 1389.33 734.75 1395.15 743.10 1398.80C751.45 1402.45 761.65 1406.12 768.30 1407.90C774.95 1409.68 778.33 1409.27 783.00 1409.50C787.67 1409.73 792.33 1410.15 796.30 1409.30C800.27 1408.45 802.83 1406.27 806.80 1404.40C810.77 1402.53 814.27 1402.07 820.10 1398.10C825.93 1394.13 834.72 1386.45 841.80 1380.60C848.88 1374.75 856.03 1369.43 862.60 1363.00C869.17 1356.57 875.30 1348.90 881.20 1342.00C887.10 1335.10 892.40 1328.80 898.00 1321.60C903.60 1314.40 909.30 1305.90 914.80 1298.80C920.30 1291.70 925.20 1286.00 931.00 1279.00C936.80 1272.00 943.90 1262.00 949.60 1256.80C955.30 1251.60 960.97 1250.10 965.20 1247.80C969.43 1245.50 973.37 1243.80 975.00 1243.00" fill="none" stroke="#ff0000" stroke-width="6.9" stroke-linejoin="round" stroke-dasharray="27.6 27.6" stroke-dashoffset="-10" clip-path="url(#cb)"/>
<path d="M231.00 1790.00C231.10 1787.47 231.28 1779.63 231.60 1774.80C231.92 1769.97 232.55 1765.58 232.90 1761.00C233.25 1756.42 233.35 1751.93 233.70 1747.30C234.05 1742.67 234.65 1737.85 235.00 1733.20C235.35 1728.55 235.47 1723.98 235.80 1719.40C236.13 1714.82 236.58 1710.27 237.00 1705.70C237.42 1701.13 237.95 1696.57 238.30 1692.00C238.65 1687.43 238.75 1682.88 239.10 1678.30C239.45 1673.72 239.98 1669.08 240.40 1664.50C240.82 1659.92 241.13 1655.45 241.60 1650.80C242.07 1646.15 242.77 1641.27 243.20 1636.60C243.63 1631.93 243.83 1627.37 244.20 1622.80C244.57 1618.23 245.00 1613.80 245.40 1609.20C245.80 1604.60 246.07 1599.73 246.60 1595.20C247.13 1590.67 248.00 1586.53 248.60 1582.00C249.20 1577.47 249.67 1572.60 250.20 1568.00C250.73 1563.40 251.27 1558.93 251.80 1554.40C252.33 1549.87 252.80 1545.35 253.40 1540.80C254.00 1536.25 254.70 1531.62 255.40 1527.10C256.10 1522.58 256.93 1518.25 257.60 1513.70C258.27 1509.15 258.67 1504.30 259.40 1499.80C260.13 1495.30 261.18 1491.20 262.00 1486.70C262.82 1482.20 263.47 1477.37 264.30 1472.80C265.13 1468.23 266.02 1463.73 267.00 1459.30C267.98 1454.87 269.17 1450.67 270.20 1446.20C271.23 1441.73 272.07 1436.95 273.20 1432.50C274.33 1428.05 275.70 1423.92 277.00 1419.50C278.30 1415.08 279.42 1410.42 281.00 1406.00C282.58 1401.58 284.58 1397.17 286.50 1393.00C288.42 1388.83 290.17 1384.83 292.50 1381.00C294.83 1377.17 297.67 1373.48 300.50 1370.00C303.33 1366.52 306.08 1362.93 309.50 1360.10C312.92 1357.27 316.92 1355.08 321.00 1353.00C325.08 1350.92 329.72 1349.15 334.00 1347.60C338.28 1346.05 342.27 1344.70 346.70 1343.70C351.13 1342.70 355.98 1342.35 360.60 1341.60C365.22 1340.85 369.80 1339.80 374.40 1339.20C379.00 1338.60 383.60 1338.30 388.20 1338.00C392.80 1337.70 397.53 1337.57 402.00 1337.40C406.47 1337.23 410.47 1337.17 415.00 1337.00C419.53 1336.83 424.43 1336.60 429.20 1336.40C433.97 1336.20 439.00 1336.00 443.60 1335.80C448.20 1335.60 452.30 1335.30 456.80 1335.20C461.30 1335.10 466.00 1335.15 470.60 1335.20C475.20 1335.25 479.80 1335.25 484.40 1335.50C489.00 1335.75 493.60 1336.35 498.20 1336.70C502.80 1337.05 507.53 1337.28 512.00 1337.60C516.47 1337.92 520.47 1338.33 525.00 1338.60C529.53 1338.87 534.70 1339.08 539.20 1339.20C543.70 1339.32 547.40 1339.30 552.00 1339.30C556.60 1339.30 561.93 1339.42 566.80 1339.20C571.67 1338.98 576.60 1338.40 581.20 1338.00C585.80 1337.60 589.93 1337.17 594.40 1336.80C598.87 1336.43 603.43 1336.10 608.00 1335.80C612.57 1335.50 617.23 1335.35 621.80 1335.00C626.37 1334.65 630.83 1334.12 635.40 1333.70C639.97 1333.28 644.60 1332.90 649.20 1332.50C653.80 1332.10 658.40 1331.75 663.00 1331.30C667.60 1330.85 672.20 1330.30 676.80 1329.80C681.40 1329.30 686.07 1328.75 690.60 1328.30C695.13 1327.85 699.50 1327.45 704.00 1327.10C708.50 1326.75 712.93 1326.32 717.60 1326.20C722.27 1326.08 727.43 1326.27 732.00 1326.40C736.57 1326.53 740.57 1326.70 745.00 1327.00C749.43 1327.30 754.03 1328.28 758.60 1328.20C763.17 1328.12 767.90 1327.48 772.40 1326.50C776.90 1325.52 781.20 1323.80 785.60 1322.30C790.00 1320.80 794.50 1319.22 798.80 1317.50C803.10 1315.78 807.20 1313.92 811.40 1312.00C815.60 1310.08 819.90 1307.80 824.00 1306.00C828.10 1304.20 831.67 1302.90 836.00 1301.20C840.33 1299.50 845.67 1297.38 850.00 1295.80C854.33 1294.22 857.75 1292.93 862.00 1291.70C866.25 1290.47 871.10 1289.55 875.50 1288.40C879.90 1287.25 883.95 1286.00 888.40 1284.80C892.85 1283.60 897.70 1282.45 902.20 1281.20C906.70 1279.95 911.10 1278.70 915.40 1277.30C919.70 1275.90 923.70 1274.30 928.00 1272.80C932.30 1271.30 936.95 1269.95 941.20 1268.30C945.45 1266.65 949.65 1264.75 953.50 1262.90C957.35 1261.05 960.72 1259.18 964.30 1257.20C967.88 1255.22 973.22 1252.03 975.00 1251.00" fill="none" stroke="#0000ff" stroke-width="6.9" stroke-linejoin="round" stroke-dasharray="6.9 6.9" stroke-dashoffset="1.8" clip-path="url(#cb)"/>
<rect x="330.90" y="1466.80" width="644.60" height="290.50" fill="#fff" stroke="#262626" stroke-width="6.7" stroke-linejoin="round"/>
<line x1="344.20" y1="1495.20" x2="483.40" y2="1495.20" stroke="#ff0000" stroke-width="6.9"/>
<text transform="translate(493.30 1507.60) scale(0.972 1)" font-size="33.4" fill="#000" style="white-space:pre">I) 2C,  25 &#176;C, Conduction</text>
<line x1="344.20" y1="1541.80" x2="483.40" y2="1541.80" stroke="#0000ff" stroke-width="6.9"/>
<text transform="translate(493.30 1554.20) scale(0.972 1)" font-size="33.4" fill="#000" style="white-space:pre">II) C/10,  -5 &#176;C, Active Air</text>
<line x1="344.20" y1="1588.40" x2="483.40" y2="1588.40" stroke="#0000ff" stroke-width="6.9" stroke-dasharray="27.6 6.9 13.8 6.9"/>
<text transform="translate(493.30 1600.80) scale(0.972 1)" font-size="33.4" fill="#000" style="white-space:pre">V) 2C,  -5 &#176;C, Conduction</text>
<line x1="344.20" y1="1635.00" x2="483.40" y2="1635.00" stroke="#ff0000" stroke-width="6.9" stroke-dasharray="6.9 6.9"/>
<text transform="translate(493.30 1647.40) scale(0.972 1)" font-size="33.4" fill="#000" style="white-space:pre">VI) 4C,  0 &#176;C, Conduction</text>
<line x1="344.20" y1="1681.60" x2="483.40" y2="1681.60" stroke="#ff0000" stroke-width="6.9" stroke-dasharray="27.6 27.6"/>
<text transform="translate(493.30 1694.00) scale(0.972 1)" font-size="33.4" fill="#000" style="white-space:pre">VII) 4C,  0 &#176;C, Conduction, 4.3 V</text>
<line x1="344.20" y1="1728.20" x2="483.40" y2="1728.20" stroke="#0000ff" stroke-width="6.9" stroke-dasharray="6.9 6.9"/>
<text transform="translate(493.30 1740.60) scale(0.972 1)" font-size="33.4" fill="#000" style="white-space:pre">VIII) 4C, -5&#176;C, Conduction</text>
<text transform="translate(123.0 1160.90) scale(0.95 1)" text-anchor="end" font-size="48.8" fill="#262626">-1</text>
<rect x="99.75" y="1156.85" width="9.13" height="4.85" fill="#fff"/>
<rect x="112.97" y="1156.85" width="8.76" height="4.85" fill="#fff"/>
<text transform="translate(123.0 1320.12) scale(0.95 1)" text-anchor="end" font-size="48.8" fill="#262626">-2</text>
<text transform="translate(123.0 1479.35) scale(0.95 1)" text-anchor="end" font-size="48.8" fill="#262626">-3</text>
<text transform="translate(123.0 1638.58) scale(0.95 1)" text-anchor="end" font-size="48.8" fill="#262626">-4</text>
<text transform="translate(123.0 1797.80) scale(0.95 1)" text-anchor="end" font-size="48.8" fill="#262626">-5</text>
<text transform="translate(138.70 1845.50) scale(0.95 1)" text-anchor="middle" font-size="48.8" fill="#262626">0</text>
<text transform="translate(413.90 1845.50) scale(0.95 1)" text-anchor="middle" font-size="48.8" fill="#262626">100</text>
<rect x="377.76" y="1841.45" width="9.13" height="4.85" fill="#fff"/>
<rect x="390.98" y="1841.45" width="8.76" height="4.85" fill="#fff"/>
<text transform="translate(689.10 1845.50) scale(0.95 1)" text-anchor="middle" font-size="48.8" fill="#262626">200</text>
<text transform="translate(964.30 1845.50) scale(0.95 1)" text-anchor="middle" font-size="48.8" fill="#262626">300</text>
<text transform="translate(552.70 1912.20) scale(0.95 1)" text-anchor="middle" font-size="53.9" fill="#262626">Capacity (mAh)</text>
<text transform="translate(53.60 1612.00) rotate(-90) scale(0.961 1)" font-size="53.9" fill="#262626">Q</text>
<text transform="translate(53.60 1525.80) rotate(-90) scale(0.961 1)" font-size="53.9" fill="#262626">dV</text>
<text transform="translate(53.60 1414.00) rotate(-90) scale(0.961 1)" font-size="53.9" fill="#262626">dQ</text>
<text transform="translate(29.10 1345.00) rotate(-90) scale(0.961 1)" font-size="40" fill="#262626">-1</text>
<text transform="translate(53.60 1293.30) rotate(-90) scale(0.961 1)" font-size="53.9" fill="#262626">(V)</text>
<circle cx="40.3" cy="1549.50" r="3.3" fill="#262626"/>
<circle cx="40.3" cy="1438.60" r="3.3" fill="#262626"/>
<text x="130.00" y="1022.30" font-size="46.5" fill="#000">b)</text>
</svg>
</body></html>
